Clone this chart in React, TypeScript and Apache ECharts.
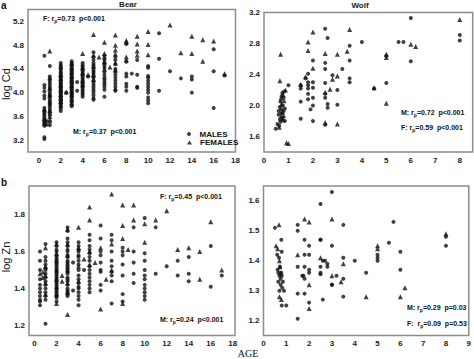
import React, { useEffect, useRef } from "react";
import * as echarts from "echarts";

// ---- Data: each row = [age, value, value, ...] ----
const bearCdMales: number[][] = [
  [0.5, 4.62, 4.13, 4.08, 4.02, 3.95, 3.9, 3.74, 3.7, 3.67, 3.64, 3.61, 3.58, 3.55, 3.52, 3.5, 3.47, 3.44, 3.25, 3.22],
  [0.7, 3.46, 3.52],
  [1, 4.45, 4.27, 4.22, 4.18, 4.14, 4.1, 4.06, 4.02, 3.98, 3.95, 3.92, 3.88, 3.85, 3.82, 3.8, 3.77, 3.73, 3.69, 3.65, 3.62, 3.5, 3.45],
  [2, 4.5, 4.46, 4.43, 4.4, 4.37, 4.34, 4.32, 4.29, 4.27, 4.25, 4.22, 4.2, 4.18, 4.16, 4.14, 4.12, 4.1, 4.08, 4.06, 4.04, 4.02, 4.0, 3.98, 3.96, 3.94, 3.92, 3.9, 3.88, 3.86, 3.84, 3.82, 3.8, 3.77, 3.73, 3.69],
  [2.5, 4.0],
  [3, 4.53, 4.5, 4.47, 4.44, 4.41, 4.38, 4.36, 4.33, 4.31, 4.28, 4.26, 4.24, 4.21, 4.19, 4.17, 4.15, 4.13, 4.11, 4.09, 4.07, 4.05, 4.03, 4.01, 3.99, 3.97, 3.95, 3.93, 3.9, 3.87, 3.84, 3.8, 3.77],
  [3.5, 4.18, 4.03],
  [4, 4.5, 4.46, 4.43, 4.4, 4.38, 4.35, 4.32, 4.3, 4.27, 4.24, 4.21, 4.18, 4.15, 4.12, 4.1, 4.06, 4.03, 4.0, 3.97, 3.93],
  [4.5, 4.27],
  [5, 4.68, 4.6, 4.55, 4.5, 4.46, 4.42, 4.38, 4.35, 4.32, 4.28, 4.25, 4.2, 4.16, 4.12, 4.08, 4.04, 4.0, 3.95, 3.9, 3.88],
  [6, 4.62, 4.58, 4.55, 4.5, 4.46, 4.42, 4.35, 4.3, 4.25, 4.22, 4.18, 4.14, 4.1, 4.05, 3.93],
  [7, 4.6, 4.55, 4.48, 4.4, 4.35, 4.3, 4.25, 4.2, 4.15, 4.1, 4.05, 4.03],
  [8, 4.82, 4.52, 4.32, 4.27, 4.15, 4.1, 4.03],
  [8.5, 4.32],
  [9, 4.55, 4.3, 4.1, 4.08],
  [10, 4.45, 4.42, 4.28, 4.25, 4.2, 4.15, 4.1, 4.05, 4.0, 3.92, 3.87, 3.82],
  [11, 5.0, 4.57, 4.03],
  [12, 4.36],
  [13, 4.24],
  [14, 4.27, 4.22, 4.0],
  [16, 4.73, 4.36, 3.74],
  [17, 4.29],
];
const bearCdFemales: number[][] = [
  [0.5, 3.72, 3.56, 3.48],
  [1, 4.7, 4.25, 4.08, 3.96, 3.7, 3.6, 3.55],
  [2, 4.44, 4.3, 4.24, 4.13, 4.05, 3.97, 3.91, 3.85, 3.78],
  [2.5, 4.01],
  [3, 4.49, 4.42, 4.35, 4.27, 4.2, 4.12, 4.03, 3.96, 3.88, 3.82],
  [4, 4.66, 4.42, 4.33, 4.2, 4.13],
  [4.5, 4.3],
  [5, 4.98, 4.63, 4.45, 4.3, 4.22],
  [5.5, 4.6],
  [6, 4.85, 4.66, 4.52, 4.4],
  [6.5, 4.43],
  [7, 4.97, 4.8, 4.72, 4.65, 4.5, 4.38],
  [8, 4.88, 4.85, 4.6, 4.55],
  [9, 4.95, 4.82, 4.7, 4.63],
  [10, 5.03, 4.81, 4.64],
  [12, 5.14],
  [13, 4.67],
  [14, 4.95, 4.66],
  [15, 4.89, 4.53],
  [16, 4.87],
  [17, 4.32],
];
const wolfCdMales: number[][] = [
  [0.48, 1.7], [0.55, 1.76], [0.6, 1.88, 1.93], [0.62, 1.74], [0.65, 1.98, 1.82], [0.67, 2.05], [0.68, 1.79],
  [0.7, 2.08, 1.95], [0.72, 2.12, 1.9], [0.75, 2.16, 1.84], [0.77, 2.0], [0.78, 1.81], [0.8, 2.1, 1.93],
  [0.82, 2.18], [0.85, 1.96, 1.8], [1.0, 2.26], [1.5, 2.26, 2.22, 2.05, 1.83], [1.7, 2.35],
  [1.8, 2.41, 2.3, 2.26, 2.22, 2.15, 2.08], [1.9, 1.95], [2, 2.58, 2.3, 2.23, 2.1, 2.0, 1.8],
  [2.5, 2.99, 2.55, 2.47, 2.29, 2.15, 2.1, 1.75], [2.6, 2.87, 2.02, 1.97], [2.8, 2.39], [3, 2.2, 2.01],
  [3.2, 2.47], [3.5, 2.77, 2.58, 2.35, 2.3], [4, 2.82], [4.5, 2.22], [5, 2.64, 2.29], [5.5, 2.82],
  [5.7, 2.82], [6, 3.13, 2.57], [8, 2.91, 2.84],
];
const wolfCdFemales: number[][] = [
  [0.62, 1.72], [0.65, 2.32], [0.68, 2.66], [0.7, 1.86], [0.72, 2.02], [0.75, 1.92], [0.78, 2.14],
  [0.8, 1.87], [0.82, 2.06], [0.88, 2.2], [0.92, 1.52], [1.0, 1.51], [1.5, 2.27], [1.7, 2.37],
  [1.8, 2.82, 2.71], [2, 2.95, 2.48], [2.5, 2.67, 2.17, 1.78], [2.7, 2.21], [2.8, 2.34],
  [3, 2.66, 2.38, 1.76], [3.4, 2.7], [3.5, 2.98], [4.5, 2.23], [5, 2.66, 2.62, 2.03], [6, 2.79],
  [6.2, 2.76], [8, 3.11],
];
const bearZnMales: number[][] = [
  [0.5, 1.6, 1.55, 1.5, 1.45, 1.42, 1.4, 1.38, 1.36, 1.34, 1.33, 1.31],
  [1, 1.64, 1.57, 1.55, 1.53, 1.51, 1.5, 1.48, 1.46, 1.44, 1.42, 1.4, 1.38, 1.36, 1.34, 1.21],
  [2, 1.65, 1.63, 1.61, 1.6, 1.58, 1.57, 1.56, 1.55, 1.54, 1.53, 1.52, 1.51, 1.5, 1.49, 1.48, 1.47, 1.46, 1.45, 1.44, 1.43, 1.42, 1.41, 1.4, 1.39, 1.38, 1.37, 1.36, 1.35, 1.33],
  [3, 1.73, 1.71, 1.67, 1.65, 1.63, 1.61, 1.6, 1.58, 1.57, 1.55, 1.54, 1.53, 1.52, 1.51, 1.5, 1.49, 1.48, 1.46, 1.45, 1.44, 1.42, 1.4, 1.39, 1.38, 1.37, 1.36],
  [3.5, 1.54, 1.39],
  [4, 1.65, 1.63, 1.61, 1.6, 1.58, 1.57, 1.55, 1.53, 1.5, 1.47, 1.45, 1.43, 1.41, 1.4, 1.38, 1.36, 1.34, 1.31],
  [4.5, 1.5],
  [5, 1.69, 1.66, 1.63, 1.61, 1.59, 1.57, 1.55, 1.52, 1.5, 1.48, 1.46, 1.44, 1.42, 1.4, 1.38],
  [6, 1.74, 1.67, 1.6, 1.58, 1.54, 1.5, 1.49, 1.42, 1.39],
  [7, 1.69, 1.66, 1.6, 1.55, 1.52, 1.49, 1.47, 1.44, 1.32],
  [8, 1.62, 1.6, 1.58, 1.53, 1.47, 1.37, 1.33],
  [9, 1.73, 1.6, 1.54, 1.48, 1.43],
  [10, 1.78, 1.59, 1.55, 1.5, 1.47, 1.45, 1.42, 1.4, 1.38, 1.36, 1.34],
  [11, 1.73, 1.48],
  [12, 1.52],
  [13, 1.55, 1.47],
  [14, 1.57, 1.48, 1.44],
  [16, 1.63, 1.41],
  [17, 1.47],
];
const bearZnFemales: number[][] = [
  [0.5, 1.48], [0.75, 1.49, 1.46],
  [1, 1.62, 1.52, 1.47, 1.43, 1.37],
  [2, 1.64, 1.59, 1.55, 1.5, 1.45, 1.41, 1.37, 1.32],
  [2.5, 1.47, 1.44],
  [3, 1.72, 1.64, 1.58, 1.5, 1.43, 1.38, 1.26],
  [4, 1.73, 1.62, 1.52, 1.44],
  [4.5, 1.56],
  [5, 1.84, 1.77, 1.6, 1.53],
  [5.5, 1.54],
  [6, 1.62, 1.29],
  [6.5, 1.45],
  [7, 1.91, 1.64, 1.5],
  [8, 1.85, 1.74, 1.67, 1.32],
  [8.5, 1.61],
  [9, 1.85, 1.77],
  [10, 1.75, 1.65],
  [11, 1.77],
  [12, 1.82],
  [13, 1.61],
  [14, 1.62],
  [15, 1.6, 1.45],
  [16, 1.76],
  [17, 1.5],
];
const wolfZnMales: number[][] = [
  [0.5, 1.51], [0.6, 1.42], [0.62, 1.37], [0.65, 1.36, 1.33], [0.68, 1.41], [0.7, 1.35, 1.3],
  [0.72, 1.38], [0.75, 1.34, 1.32], [0.78, 1.47, 1.36], [0.8, 1.43, 1.35, 1.25], [0.82, 1.31],
  [0.85, 1.33], [0.9, 1.3], [1.0, 1.25], [1.5, 1.52, 1.5, 1.38, 1.29, 1.206], [1.7, 1.35],
  [1.75, 1.35], [1.8, 1.47, 1.42, 1.38, 1.34, 1.29], [2, 1.45, 1.42, 1.37, 1.36, 1.26],
  [2.5, 1.59, 1.47, 1.47, 1.38, 1.36, 1.355], [2.6, 1.27, 1.4], [2.7, 1.4], [2.8, 1.39, 1.38],
  [3, 1.63, 1.45, 1.32, 1.32], [3.2, 1.35], [3.5, 1.52, 1.41, 1.34, 1.28], [4, 1.4], [4.5, 1.36],
  [5, 1.42, 1.41, 1.4], [5.5, 1.46], [5.7, 1.53], [6, 1.43, 1.37], [8, 1.48, 1.45],
];
const wolfZnFemales: number[][] = [
  [0.55, 1.45], [0.62, 1.44], [0.68, 1.52], [0.7, 1.4, 1.28], [0.72, 1.38], [0.75, 1.36], [0.78, 1.27],
  [1.5, 1.42], [1.8, 1.54], [2, 1.53, 1.32, 1.24], [2.5, 1.41], [3, 1.54, 1.35], [3.4, 1.33],
  [3.5, 1.39], [4.5, 1.28], [5, 1.45, 1.44], [6, 1.28], [6.2, 1.31], [8, 1.49],
];

const bearAgeTicks = [0, 2, 4, 6, 8, 10, 12, 14, 16, 18];
const wolfCdAgeTicks = [0, 1, 2, 3, 4, 5, 6, 7, 8];
const wolfZnAgeTicks = [0, 1, 2, 3, 4, 5, 6, 7, 8, 9];
const bearCdTicks = [3.2, 3.6, 4.0, 4.4, 4.8, 5.2];
const wolfCdTicks = [1.6, 2.0, 2.4, 2.8, 3.2];
const bearZnTicks = [1.2, 1.4, 1.6, 1.8];
const wolfZnTicks = [1.2, 1.3, 1.4, 1.5, 1.6];

const flat = (rows: number[][]) =>
  rows.flatMap(([age, ...vals]) => vals.map((v) => [age, v]));

const FONT = "Liberation Sans, Arial, sans-serif";

export default function App() {
  const ref = useRef<HTMLDivElement>(null);
  useEffect(() => {
    if (!ref.current) return;
    const chart = echarts.init(ref.current, undefined, { renderer: "svg" });

    const lbl = (vals: number[], dec: boolean, margin: number) => ({
      customValues: vals,
      margin,
      fontSize: 8,
      fontWeight: "bold",
      fontFamily: FONT,
      color: "#222",
      formatter: (v: number) => (dec ? v.toFixed(1) : String(v)),
    });
    const xAx = (gi: number, min: number, max: number, ticks: number[]) => ({
      gridIndex: gi, type: "value", min, max,
      axisLine: { show: false }, axisTick: { show: false }, splitLine: { show: false },
      axisLabel: lbl(ticks, false, 4),
    });
    const yAx = (gi: number, min: number, max: number, ticks: number[]) => ({
      gridIndex: gi, type: "value", min, max,
      axisLine: { show: false }, axisTick: { show: false }, splitLine: { show: false },
      axisLabel: lbl(ticks, true, 4),
    });
    const ser = (gi: number, name: string, rows: number[][]) => ({
      type: "scatter",
      name,
      xAxisIndex: gi,
      yAxisIndex: gi,
      data: flat(rows),
      symbol: name === "MALES" ? "circle" : "triangle",
      symbolSize: name === "MALES" ? 4 : 5,
      itemStyle: { color: "#111" },
    });
    const gridStyle = { show: true, borderColor: "#8c8c8c", borderWidth: 1.5, backgroundColor: "#fff" };
    const txt = (x: number, y: number, text: string) => ({
      type: "text", x, y,
      style: {
        text,
        fill: "#111",
        fontSize: 7,
        fontWeight: "bold",
        fontFamily: FONT,
        textVerticalAlign: "middle",
        rich: {
          s: { fontSize: 5, fontWeight: "bold", fontFamily: FONT, verticalAlign: "bottom", lineHeight: 11, fill: "#111" },
        },
      },
    });
    const leg = (name: string, top: number) => ({
      data: [name],
      left: 187,
      top,
      itemWidth: 5,
      itemHeight: 4,
      padding: 0,
      textStyle: { fontSize: 8, fontWeight: "bold", fontFamily: FONT, color: "#111", padding: [0, 0, 0, 3] },
    });

    chart.setOption({
      animation: false,
      backgroundColor: "#fff",
      grid: [
        { left: 28, top: 9.5, width: 207.5, height: 142.5, ...gridStyle },
        { left: 264, top: 12.5, width: 208.7, height: 139.5, ...gridStyle },
        { left: 29, top: 186, width: 206, height: 149.5, ...gridStyle },
        { left: 263.5, top: 186, width: 208.5, height: 149.5, ...gridStyle },
      ],
      xAxis: [
        xAx(0, -1, 18, bearAgeTicks),
        xAx(1, 0, 8.53, wolfCdAgeTicks),
        xAx(2, -0.5, 18.2, bearAgeTicks),
        xAx(3, 0, 9, wolfZnAgeTicks),
      ],
      yAxis: [
        yAx(0, 3.0, 5.4, bearCdTicks),
        yAx(1, 1.4, 3.2, wolfCdTicks),
        yAx(2, 1.147, 1.953, bearZnTicks),
        yAx(3, 1.15, 1.65, wolfZnTicks),
      ],
      legend: [leg("MALES", 130), leg("FEMALES", 138.5)],
      series: [
        ser(0, "MALES", bearCdMales),
        ser(0, "FEMALES", bearCdFemales),
        ser(1, "MALES", wolfCdMales),
        ser(1, "FEMALES", wolfCdFemales),
        ser(2, "MALES", bearZnMales),
        ser(2, "FEMALES", bearZnFemales),
        ser(3, "MALES", wolfZnMales),
        ser(3, "FEMALES", wolfZnFemales),
      ],
      graphic: [
        { type: "text", x: 1, y: 5, style: { text: "a", fontSize: 10, fontWeight: "bold", fontFamily: FONT, fill: "#111", textVerticalAlign: "middle" } },
        { type: "text", x: 1, y: 182, style: { text: "b", fontSize: 10, fontWeight: "bold", fontFamily: FONT, fill: "#111", textVerticalAlign: "middle" } },
        { type: "text", x: 128, y: 4, style: { text: "Bear", fontSize: 8, fontWeight: "bold", fontFamily: FONT, fill: "#222", textAlign: "center", textVerticalAlign: "middle" } },
        { type: "text", x: 360, y: 5.5, style: { text: "Wolf", fontSize: 8, fontWeight: "bold", fontFamily: FONT, fill: "#222", textAlign: "center", textVerticalAlign: "middle" } },
        { type: "text", x: 6, y: 84, rotation: Math.PI / 2, style: { text: "log Cd", fontSize: 11, fontFamily: FONT, fill: "#111", textAlign: "center", textVerticalAlign: "middle" } },
        { type: "text", x: 6, y: 257, rotation: Math.PI / 2, style: { text: "log Zn", fontSize: 11, fontFamily: FONT, fill: "#111", textAlign: "center", textVerticalAlign: "middle" } },
        { type: "text", x: 248, y: 353, style: { text: "AGE", fontSize: 10, fontFamily: "Liberation Serif, Times New Roman, serif", fill: "#111", textAlign: "center", textVerticalAlign: "middle" } },
        txt(43, 18, "F: r{s|p}=0.73  p<0.001"),
        txt(73, 131, "M: r{s|p}=0.37  p<0.001"),
        txt(401, 112, "M: r{s|p}=0.72  p<0.001"),
        txt(401, 127, "F: r{s|p}=0.59  p<0.001"),
        txt(160, 196, "F: r{s|p}=0.45  p<0.001"),
        txt(160, 319, "M: r{s|p}=0.24  p<0.001"),
        txt(407, 307, "M: r{s|p}=0.29  p=0.03"),
        txt(407, 323, "F:  r{s|p}=0.09  p=0.53"),
      ],
    });
    return () => chart.dispose();
  }, []);
  return (
    <div
      ref={ref}
      style={{ position: "absolute", left: 0, top: 0, width: 474, height: 359 }}
    />
  );
}
